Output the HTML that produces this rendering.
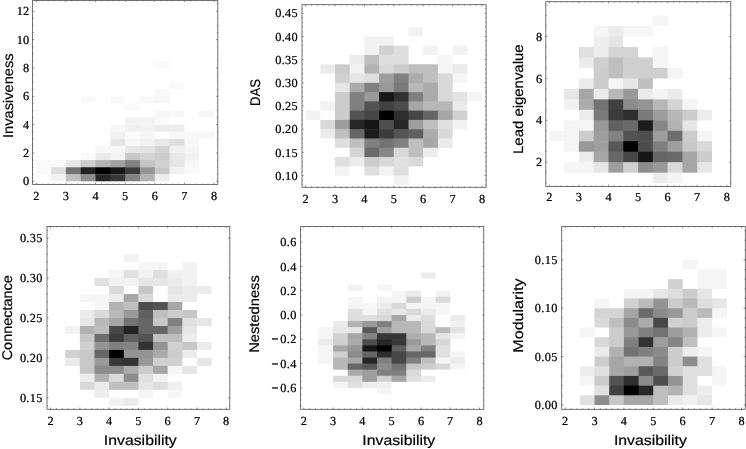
<!DOCTYPE html>
<html><head><meta charset="utf-8"><title>Figure</title>
<style>
html,body{margin:0;padding:0;background:#fff;}
svg{display:block;text-rendering:geometricPrecision;}
.t{font-family:"Liberation Serif",serif;font-size:12.3px;fill:#000;}
.l{font-family:"Liberation Sans",sans-serif;font-size:14px;fill:#000;stroke:#000;stroke-width:0.2px;}
</style></head><body>
<svg width="746" height="449" viewBox="0 0 746 449">
<rect width="746" height="449" fill="#fff"/>
<defs><filter id="b" x="-5%" y="-5%" width="110%" height="110%"><feGaussianBlur stdDeviation="0.45"/></filter><filter id="tb" x="-2%" y="-2%" width="104%" height="104%"><feGaussianBlur stdDeviation="0.22 0.05"/><feComponentTransfer><feFuncA type="gamma" amplitude="1" exponent="0.6" offset="0"/></feComponentTransfer></filter></defs>
<g>
<g filter="url(#b)">
<rect x="51.11" y="174.22" width="15.41" height="7.08" fill="#f2f2f2"/><rect x="65.92" y="174.22" width="15.41" height="7.08" fill="#bfbfbf"/><rect x="80.73" y="174.22" width="15.41" height="7.08" fill="#8c8c8c"/><rect x="95.54" y="174.22" width="15.41" height="7.08" fill="#262626"/><rect x="110.35" y="174.22" width="15.41" height="7.08" fill="#383838"/><rect x="125.16" y="174.22" width="15.41" height="7.08" fill="#808080"/><rect x="139.97" y="174.22" width="15.41" height="7.08" fill="#b2b2b2"/><rect x="154.78" y="174.22" width="14.81" height="7.08" fill="#ededed"/>
<rect x="36.30" y="167.13" width="15.41" height="7.08" fill="#fafafa"/><rect x="51.11" y="167.13" width="15.41" height="7.08" fill="#dedede"/><rect x="65.92" y="167.13" width="15.41" height="7.08" fill="#737373"/><rect x="80.73" y="167.13" width="15.41" height="7.08" fill="#212121"/><rect x="95.54" y="167.13" width="15.41" height="7.08" fill="#000000"/><rect x="110.35" y="167.13" width="15.41" height="7.08" fill="#191919"/><rect x="125.16" y="167.13" width="15.41" height="7.08" fill="#3b3b3b"/><rect x="139.97" y="167.13" width="15.41" height="7.08" fill="#949494"/><rect x="154.78" y="167.13" width="15.41" height="7.08" fill="#c7c7c7"/><rect x="169.59" y="167.13" width="15.41" height="7.08" fill="#f0f0f0"/><rect x="184.40" y="167.13" width="14.81" height="7.08" fill="#fafafa"/>
<rect x="36.30" y="160.05" width="15.41" height="7.08" fill="#fafafa"/><rect x="51.11" y="160.05" width="15.41" height="7.08" fill="#fafafa"/><rect x="65.92" y="160.05" width="15.41" height="7.08" fill="#e8e8e8"/><rect x="80.73" y="160.05" width="15.41" height="7.08" fill="#cccccc"/><rect x="95.54" y="160.05" width="15.41" height="7.08" fill="#b2b2b2"/><rect x="110.35" y="160.05" width="15.41" height="7.08" fill="#a1a1a1"/><rect x="125.16" y="160.05" width="15.41" height="7.08" fill="#808080"/><rect x="139.97" y="160.05" width="15.41" height="7.08" fill="#c4c4c4"/><rect x="154.78" y="160.05" width="15.41" height="7.08" fill="#d1d1d1"/><rect x="169.59" y="160.05" width="15.41" height="7.08" fill="#e6e6e6"/><rect x="184.40" y="160.05" width="14.81" height="7.08" fill="#f7f7f7"/>
<rect x="80.73" y="152.96" width="15.41" height="7.08" fill="#fafafa"/><rect x="95.54" y="152.96" width="15.41" height="7.08" fill="#ebebeb"/><rect x="110.35" y="152.96" width="15.41" height="7.08" fill="#f2f2f2"/><rect x="125.16" y="152.96" width="15.41" height="7.08" fill="#c7c7c7"/><rect x="139.97" y="152.96" width="15.41" height="7.08" fill="#d4d4d4"/><rect x="154.78" y="152.96" width="15.41" height="7.08" fill="#cccccc"/><rect x="169.59" y="152.96" width="15.41" height="7.08" fill="#e8e8e8"/><rect x="184.40" y="152.96" width="14.81" height="7.08" fill="#f2f2f2"/>
<rect x="95.54" y="145.88" width="15.41" height="7.08" fill="#f7f7f7"/><rect x="110.35" y="145.88" width="15.41" height="7.08" fill="#f7f7f7"/><rect x="125.16" y="145.88" width="15.41" height="7.08" fill="#e6e6e6"/><rect x="139.97" y="145.88" width="15.41" height="7.08" fill="#e3e3e3"/><rect x="154.78" y="145.88" width="15.41" height="7.08" fill="#d4d4d4"/><rect x="169.59" y="145.88" width="15.41" height="7.08" fill="#f0f0f0"/><rect x="184.40" y="145.88" width="14.81" height="7.08" fill="#f5f5f5"/>
<rect x="110.35" y="138.79" width="15.41" height="7.08" fill="#e6e6e6"/><rect x="125.16" y="138.79" width="15.41" height="7.08" fill="#f7f7f7"/><rect x="139.97" y="138.79" width="15.41" height="7.08" fill="#f2f2f2"/><rect x="154.78" y="138.79" width="15.41" height="7.08" fill="#e8e8e8"/><rect x="169.59" y="138.79" width="15.41" height="7.08" fill="#dedede"/><rect x="184.40" y="138.79" width="14.81" height="7.08" fill="#f7f7f7"/>
<rect x="110.35" y="131.71" width="15.41" height="7.08" fill="#f0f0f0"/><rect x="125.16" y="131.71" width="15.41" height="7.08" fill="#fafafa"/><rect x="139.97" y="131.71" width="14.81" height="7.08" fill="#f5f5f5"/><rect x="169.59" y="131.71" width="15.41" height="7.08" fill="#f7f7f7"/><rect x="184.40" y="131.71" width="15.41" height="7.08" fill="#f7f7f7"/><rect x="199.21" y="131.71" width="14.81" height="7.08" fill="#f7f7f7"/>
<rect x="110.35" y="124.62" width="15.41" height="7.08" fill="#f7f7f7"/><rect x="125.16" y="124.62" width="15.41" height="7.08" fill="#f0f0f0"/><rect x="139.97" y="124.62" width="15.41" height="7.08" fill="#f2f2f2"/><rect x="154.78" y="124.62" width="15.41" height="7.08" fill="#ebebeb"/><rect x="169.59" y="124.62" width="14.81" height="7.08" fill="#ededed"/>
<rect x="125.16" y="117.54" width="15.41" height="7.08" fill="#f2f2f2"/><rect x="139.97" y="117.54" width="15.41" height="7.08" fill="#f2f2f2"/><rect x="154.78" y="117.54" width="14.81" height="7.08" fill="#fafafa"/>
<rect x="154.78" y="110.45" width="15.41" height="7.08" fill="#f7f7f7"/><rect x="169.59" y="110.45" width="14.81" height="7.08" fill="#f7f7f7"/><rect x="199.21" y="110.45" width="14.81" height="7.08" fill="#f7f7f7"/>
<rect x="125.16" y="103.37" width="14.81" height="7.08" fill="#fafafa"/>
<rect x="80.73" y="96.28" width="14.81" height="7.08" fill="#fafafa"/><rect x="110.35" y="96.28" width="14.81" height="7.08" fill="#fafafa"/><rect x="139.97" y="96.28" width="15.41" height="7.08" fill="#fafafa"/><rect x="154.78" y="96.28" width="14.81" height="7.08" fill="#f7f7f7"/>
<rect x="154.78" y="89.20" width="14.81" height="7.08" fill="#f9f9f9"/>
<rect x="169.59" y="82.11" width="14.81" height="7.08" fill="#fafafa"/>
<rect x="154.78" y="60.86" width="14.81" height="7.08" fill="#fafafa"/>
</g>
<rect x="32.6" y="0.4" width="185.2" height="184.0" fill="none" stroke="#505050" stroke-width="0.8"/>
<path d="M36.3 184.4v-1.6M36.3 0.4v1.6M42.2 184.4v-0.9M42.2 0.4v0.9M48.1 184.4v-0.9M48.1 0.4v0.9M54.1 184.4v-0.9M54.1 0.4v0.9M60.0 184.4v-0.9M60.0 0.4v0.9M65.9 184.4v-1.6M65.9 0.4v1.6M71.8 184.4v-0.9M71.8 0.4v0.9M77.8 184.4v-0.9M77.8 0.4v0.9M83.7 184.4v-0.9M83.7 0.4v0.9M89.6 184.4v-0.9M89.6 0.4v0.9M95.5 184.4v-1.6M95.5 0.4v1.6M101.5 184.4v-0.9M101.5 0.4v0.9M107.4 184.4v-0.9M107.4 0.4v0.9M113.3 184.4v-0.9M113.3 0.4v0.9M119.2 184.4v-0.9M119.2 0.4v0.9M125.2 184.4v-1.6M125.2 0.4v1.6M131.1 184.4v-0.9M131.1 0.4v0.9M137.0 184.4v-0.9M137.0 0.4v0.9M142.9 184.4v-0.9M142.9 0.4v0.9M148.9 184.4v-0.9M148.9 0.4v0.9M154.8 184.4v-1.6M154.8 0.4v1.6M160.7 184.4v-0.9M160.7 0.4v0.9M166.6 184.4v-0.9M166.6 0.4v0.9M172.6 184.4v-0.9M172.6 0.4v0.9M178.5 184.4v-0.9M178.5 0.4v0.9M184.4 184.4v-1.6M184.4 0.4v1.6M190.3 184.4v-0.9M190.3 0.4v0.9M196.2 184.4v-0.9M196.2 0.4v0.9M202.2 184.4v-0.9M202.2 0.4v0.9M208.1 184.4v-0.9M208.1 0.4v0.9M214.0 184.4v-1.6M214.0 0.4v1.6M32.6 181.3h1.6M217.8 181.3h-1.6M32.6 174.2h0.9M217.8 174.2h-0.9M32.6 167.1h0.9M217.8 167.1h-0.9M32.6 160.0h0.9M217.8 160.0h-0.9M32.6 153.0h1.6M217.8 153.0h-1.6M32.6 145.9h0.9M217.8 145.9h-0.9M32.6 138.8h0.9M217.8 138.8h-0.9M32.6 131.7h0.9M217.8 131.7h-0.9M32.6 124.6h1.6M217.8 124.6h-1.6M32.6 117.5h0.9M217.8 117.5h-0.9M32.6 110.5h0.9M217.8 110.5h-0.9M32.6 103.4h0.9M217.8 103.4h-0.9M32.6 96.3h1.6M217.8 96.3h-1.6M32.6 89.2h0.9M217.8 89.2h-0.9M32.6 82.1h0.9M217.8 82.1h-0.9M32.6 75.0h0.9M217.8 75.0h-0.9M32.6 67.9h1.6M217.8 67.9h-1.6M32.6 60.9h0.9M217.8 60.9h-0.9M32.6 53.8h0.9M217.8 53.8h-0.9M32.6 46.7h0.9M217.8 46.7h-0.9M32.6 39.6h1.6M217.8 39.6h-1.6M32.6 32.5h0.9M217.8 32.5h-0.9M32.6 25.4h0.9M217.8 25.4h-0.9M32.6 18.3h0.9M217.8 18.3h-0.9M32.6 11.3h1.6M217.8 11.3h-1.6M32.6 4.2h0.9M217.8 4.2h-0.9" stroke="#555" stroke-width="0.7" fill="none"/>
<g filter="url(#tb)">
<text class="t" x="36.3" y="199.8" text-anchor="middle">2</text><text class="t" x="65.9" y="199.8" text-anchor="middle">3</text><text class="t" x="95.5" y="199.8" text-anchor="middle">4</text><text class="t" x="125.2" y="199.8" text-anchor="middle">5</text><text class="t" x="154.8" y="199.8" text-anchor="middle">6</text><text class="t" x="184.4" y="199.8" text-anchor="middle">7</text><text class="t" x="214.0" y="199.8" text-anchor="middle">8</text>
<text class="t" x="29.1" y="185.4" text-anchor="end">0</text><text class="t" x="29.1" y="157.1" text-anchor="end">2</text><text class="t" x="29.1" y="128.7" text-anchor="end">4</text><text class="t" x="29.1" y="100.4" text-anchor="end">6</text><text class="t" x="29.1" y="72.0" text-anchor="end">8</text><text class="t" x="29.1" y="43.7" text-anchor="end">10</text><text class="t" x="29.1" y="15.4" text-anchor="end">12</text>
</g>
<text class="l" text-anchor="middle" textLength="84.5" lengthAdjust="spacingAndGlyphs" transform="translate(13.2 95.7) rotate(-90)">Invasiveness</text>
</g>
<g>
<g filter="url(#b)">
<rect x="408.50" y="27.12" width="14.70" height="9.28" fill="#f2f2f2"/>
<rect x="364.40" y="36.40" width="15.30" height="9.88" fill="#f2f2f2"/><rect x="379.10" y="36.40" width="14.70" height="9.88" fill="#f2f2f2"/>
<rect x="364.40" y="45.68" width="15.30" height="9.88" fill="#f2f2f2"/><rect x="379.10" y="45.68" width="15.30" height="9.88" fill="#d1d1d1"/><rect x="393.80" y="45.68" width="14.70" height="9.88" fill="#dedede"/><rect x="423.20" y="45.68" width="14.70" height="9.28" fill="#f2f2f2"/><rect x="452.60" y="45.68" width="14.70" height="9.28" fill="#f2f2f2"/>
<rect x="349.70" y="54.96" width="15.30" height="9.88" fill="#ebebeb"/><rect x="364.40" y="54.96" width="15.30" height="9.88" fill="#bfbfbf"/><rect x="379.10" y="54.96" width="15.30" height="9.88" fill="#dedede"/><rect x="393.80" y="54.96" width="14.70" height="9.88" fill="#dedede"/><rect x="437.90" y="54.96" width="14.70" height="9.88" fill="#f5f5f5"/>
<rect x="320.30" y="64.24" width="15.30" height="9.28" fill="#ebebeb"/><rect x="335.00" y="64.24" width="15.30" height="9.88" fill="#cccccc"/><rect x="349.70" y="64.24" width="15.30" height="9.88" fill="#f2f2f2"/><rect x="364.40" y="64.24" width="15.30" height="9.88" fill="#b2b2b2"/><rect x="379.10" y="64.24" width="15.30" height="9.88" fill="#d9d9d9"/><rect x="393.80" y="64.24" width="15.30" height="9.88" fill="#cccccc"/><rect x="408.50" y="64.24" width="15.30" height="9.88" fill="#bfbfbf"/><rect x="423.20" y="64.24" width="15.30" height="9.88" fill="#bfbfbf"/><rect x="437.90" y="64.24" width="15.30" height="9.88" fill="#f5f5f5"/><rect x="452.60" y="64.24" width="14.70" height="9.88" fill="#ebebeb"/>
<rect x="335.00" y="73.52" width="15.30" height="9.88" fill="#d1d1d1"/><rect x="349.70" y="73.52" width="15.30" height="9.88" fill="#e6e6e6"/><rect x="364.40" y="73.52" width="15.30" height="9.88" fill="#dedede"/><rect x="379.10" y="73.52" width="15.30" height="9.88" fill="#9e9e9e"/><rect x="393.80" y="73.52" width="15.30" height="9.88" fill="#808080"/><rect x="408.50" y="73.52" width="15.30" height="9.88" fill="#ababab"/><rect x="423.20" y="73.52" width="15.30" height="9.88" fill="#bfbfbf"/><rect x="437.90" y="73.52" width="15.30" height="9.88" fill="#d9d9d9"/><rect x="452.60" y="73.52" width="14.70" height="9.28" fill="#f5f5f5"/>
<rect x="335.00" y="82.80" width="15.30" height="9.88" fill="#e6e6e6"/><rect x="349.70" y="82.80" width="15.30" height="9.88" fill="#ababab"/><rect x="364.40" y="82.80" width="15.30" height="9.88" fill="#808080"/><rect x="379.10" y="82.80" width="15.30" height="9.88" fill="#999999"/><rect x="393.80" y="82.80" width="15.30" height="9.88" fill="#7a7a7a"/><rect x="408.50" y="82.80" width="15.30" height="9.88" fill="#b8b8b8"/><rect x="423.20" y="82.80" width="15.30" height="9.88" fill="#ababab"/><rect x="437.90" y="82.80" width="14.70" height="9.88" fill="#d9d9d9"/>
<rect x="335.00" y="92.08" width="15.30" height="9.88" fill="#cccccc"/><rect x="349.70" y="92.08" width="15.30" height="9.88" fill="#808080"/><rect x="364.40" y="92.08" width="15.30" height="9.88" fill="#999999"/><rect x="379.10" y="92.08" width="15.30" height="9.88" fill="#141414"/><rect x="393.80" y="92.08" width="15.30" height="9.88" fill="#333333"/><rect x="408.50" y="92.08" width="15.30" height="9.88" fill="#808080"/><rect x="423.20" y="92.08" width="15.30" height="9.88" fill="#ababab"/><rect x="437.90" y="92.08" width="15.30" height="9.88" fill="#d9d9d9"/><rect x="452.60" y="92.08" width="15.30" height="9.88" fill="#e3e3e3"/><rect x="467.30" y="92.08" width="14.70" height="9.28" fill="#f5f5f5"/>
<rect x="320.30" y="101.36" width="15.30" height="9.28" fill="#f2f2f2"/><rect x="335.00" y="101.36" width="15.30" height="9.88" fill="#cccccc"/><rect x="349.70" y="101.36" width="15.30" height="9.88" fill="#808080"/><rect x="364.40" y="101.36" width="15.30" height="9.88" fill="#525252"/><rect x="379.10" y="101.36" width="15.30" height="9.88" fill="#404040"/><rect x="393.80" y="101.36" width="15.30" height="9.88" fill="#4d4d4d"/><rect x="408.50" y="101.36" width="15.30" height="9.88" fill="#a6a6a6"/><rect x="423.20" y="101.36" width="15.30" height="9.88" fill="#b8b8b8"/><rect x="437.90" y="101.36" width="15.30" height="9.88" fill="#b8b8b8"/><rect x="452.60" y="101.36" width="14.70" height="9.88" fill="#ebebeb"/>
<rect x="305.60" y="110.64" width="14.70" height="9.28" fill="#f2f2f2"/><rect x="335.00" y="110.64" width="15.30" height="9.88" fill="#cccccc"/><rect x="349.70" y="110.64" width="15.30" height="9.88" fill="#525252"/><rect x="364.40" y="110.64" width="15.30" height="9.88" fill="#474747"/><rect x="379.10" y="110.64" width="15.30" height="9.88" fill="#000000"/><rect x="393.80" y="110.64" width="15.30" height="9.88" fill="#2e2e2e"/><rect x="408.50" y="110.64" width="15.30" height="9.88" fill="#474747"/><rect x="423.20" y="110.64" width="15.30" height="9.88" fill="#666666"/><rect x="437.90" y="110.64" width="15.30" height="9.88" fill="#a6a6a6"/><rect x="452.60" y="110.64" width="14.70" height="9.88" fill="#d1d1d1"/>
<rect x="320.30" y="119.92" width="15.30" height="9.88" fill="#d9d9d9"/><rect x="335.00" y="119.92" width="15.30" height="9.88" fill="#9e9e9e"/><rect x="349.70" y="119.92" width="15.30" height="9.88" fill="#262626"/><rect x="364.40" y="119.92" width="15.30" height="9.88" fill="#141414"/><rect x="379.10" y="119.92" width="15.30" height="9.88" fill="#4d4d4d"/><rect x="393.80" y="119.92" width="15.30" height="9.88" fill="#262626"/><rect x="408.50" y="119.92" width="15.30" height="9.88" fill="#9e9e9e"/><rect x="423.20" y="119.92" width="15.30" height="9.88" fill="#bfbfbf"/><rect x="437.90" y="119.92" width="15.30" height="9.88" fill="#e0e0e0"/><rect x="452.60" y="119.92" width="14.70" height="9.28" fill="#f2f2f2"/>
<rect x="320.30" y="129.20" width="15.30" height="9.28" fill="#ebebeb"/><rect x="335.00" y="129.20" width="15.30" height="9.88" fill="#bfbfbf"/><rect x="349.70" y="129.20" width="15.30" height="9.88" fill="#666666"/><rect x="364.40" y="129.20" width="15.30" height="9.88" fill="#1f1f1f"/><rect x="379.10" y="129.20" width="15.30" height="9.88" fill="#3b3b3b"/><rect x="393.80" y="129.20" width="15.30" height="9.88" fill="#545454"/><rect x="408.50" y="129.20" width="15.30" height="9.88" fill="#616161"/><rect x="423.20" y="129.20" width="15.30" height="9.88" fill="#ababab"/><rect x="437.90" y="129.20" width="14.70" height="9.88" fill="#d9d9d9"/>
<rect x="335.00" y="138.48" width="15.30" height="9.28" fill="#dedede"/><rect x="349.70" y="138.48" width="15.30" height="9.88" fill="#bfbfbf"/><rect x="364.40" y="138.48" width="15.30" height="9.88" fill="#808080"/><rect x="379.10" y="138.48" width="15.30" height="9.88" fill="#737373"/><rect x="393.80" y="138.48" width="15.30" height="9.88" fill="#808080"/><rect x="408.50" y="138.48" width="15.30" height="9.88" fill="#bfbfbf"/><rect x="423.20" y="138.48" width="15.30" height="9.88" fill="#a6a6a6"/><rect x="437.90" y="138.48" width="14.70" height="9.28" fill="#ebebeb"/>
<rect x="349.70" y="147.76" width="15.30" height="9.88" fill="#d4d4d4"/><rect x="364.40" y="147.76" width="15.30" height="9.88" fill="#6b6b6b"/><rect x="379.10" y="147.76" width="15.30" height="9.88" fill="#878787"/><rect x="393.80" y="147.76" width="15.30" height="9.88" fill="#d9d9d9"/><rect x="408.50" y="147.76" width="15.30" height="9.88" fill="#bfbfbf"/><rect x="423.20" y="147.76" width="14.70" height="9.28" fill="#ededed"/>
<rect x="335.00" y="157.04" width="15.30" height="9.88" fill="#e0e0e0"/><rect x="349.70" y="157.04" width="15.30" height="9.28" fill="#ededed"/><rect x="364.40" y="157.04" width="15.30" height="9.88" fill="#cccccc"/><rect x="379.10" y="157.04" width="15.30" height="9.88" fill="#d9d9d9"/><rect x="393.80" y="157.04" width="15.30" height="9.88" fill="#e0e0e0"/><rect x="408.50" y="157.04" width="14.70" height="9.28" fill="#d9d9d9"/>
<rect x="335.00" y="166.32" width="14.70" height="9.28" fill="#f2f2f2"/><rect x="364.40" y="166.32" width="15.30" height="9.28" fill="#dedede"/><rect x="379.10" y="166.32" width="15.30" height="9.28" fill="#f2f2f2"/><rect x="393.80" y="166.32" width="14.70" height="9.88" fill="#dedede"/>
<rect x="393.80" y="175.60" width="14.70" height="9.28" fill="#f2f2f2"/>
</g>
<rect x="302.0" y="4.7" width="184.1" height="182.6" fill="none" stroke="#505050" stroke-width="0.8"/>
<path d="M305.6 187.2v-1.6M305.6 4.7v1.6M311.5 187.2v-0.9M311.5 4.7v0.9M317.4 187.2v-0.9M317.4 4.7v0.9M323.2 187.2v-0.9M323.2 4.7v0.9M329.1 187.2v-0.9M329.1 4.7v0.9M335.0 187.2v-1.6M335.0 4.7v1.6M340.9 187.2v-0.9M340.9 4.7v0.9M346.8 187.2v-0.9M346.8 4.7v0.9M352.6 187.2v-0.9M352.6 4.7v0.9M358.5 187.2v-0.9M358.5 4.7v0.9M364.4 187.2v-1.6M364.4 4.7v1.6M370.3 187.2v-0.9M370.3 4.7v0.9M376.2 187.2v-0.9M376.2 4.7v0.9M382.0 187.2v-0.9M382.0 4.7v0.9M387.9 187.2v-0.9M387.9 4.7v0.9M393.8 187.2v-1.6M393.8 4.7v1.6M399.7 187.2v-0.9M399.7 4.7v0.9M405.6 187.2v-0.9M405.6 4.7v0.9M411.4 187.2v-0.9M411.4 4.7v0.9M417.3 187.2v-0.9M417.3 4.7v0.9M423.2 187.2v-1.6M423.2 4.7v1.6M429.1 187.2v-0.9M429.1 4.7v0.9M435.0 187.2v-0.9M435.0 4.7v0.9M440.8 187.2v-0.9M440.8 4.7v0.9M446.7 187.2v-0.9M446.7 4.7v0.9M452.6 187.2v-1.6M452.6 4.7v1.6M458.5 187.2v-0.9M458.5 4.7v0.9M464.4 187.2v-0.9M464.4 4.7v0.9M470.2 187.2v-0.9M470.2 4.7v0.9M476.1 187.2v-0.9M476.1 4.7v0.9M482.0 187.2v-1.6M482.0 4.7v1.6M302.0 184.9h0.9M486.1 184.9h-0.9M302.0 180.2h0.9M486.1 180.2h-0.9M302.0 175.6h1.6M486.1 175.6h-1.6M302.0 171.0h0.9M486.1 171.0h-0.9M302.0 166.3h0.9M486.1 166.3h-0.9M302.0 161.7h0.9M486.1 161.7h-0.9M302.0 157.0h0.9M486.1 157.0h-0.9M302.0 152.4h1.6M486.1 152.4h-1.6M302.0 147.8h0.9M486.1 147.8h-0.9M302.0 143.1h0.9M486.1 143.1h-0.9M302.0 138.5h0.9M486.1 138.5h-0.9M302.0 133.8h0.9M486.1 133.8h-0.9M302.0 129.2h1.6M486.1 129.2h-1.6M302.0 124.6h0.9M486.1 124.6h-0.9M302.0 119.9h0.9M486.1 119.9h-0.9M302.0 115.3h0.9M486.1 115.3h-0.9M302.0 110.6h0.9M486.1 110.6h-0.9M302.0 106.0h1.6M486.1 106.0h-1.6M302.0 101.4h0.9M486.1 101.4h-0.9M302.0 96.7h0.9M486.1 96.7h-0.9M302.0 92.1h0.9M486.1 92.1h-0.9M302.0 87.4h0.9M486.1 87.4h-0.9M302.0 82.8h1.6M486.1 82.8h-1.6M302.0 78.2h0.9M486.1 78.2h-0.9M302.0 73.5h0.9M486.1 73.5h-0.9M302.0 68.9h0.9M486.1 68.9h-0.9M302.0 64.2h0.9M486.1 64.2h-0.9M302.0 59.6h1.6M486.1 59.6h-1.6M302.0 55.0h0.9M486.1 55.0h-0.9M302.0 50.3h0.9M486.1 50.3h-0.9M302.0 45.7h0.9M486.1 45.7h-0.9M302.0 41.0h0.9M486.1 41.0h-0.9M302.0 36.4h1.6M486.1 36.4h-1.6M302.0 31.8h0.9M486.1 31.8h-0.9M302.0 27.1h0.9M486.1 27.1h-0.9M302.0 22.5h0.9M486.1 22.5h-0.9M302.0 17.8h0.9M486.1 17.8h-0.9M302.0 13.2h1.6M486.1 13.2h-1.6M302.0 8.6h0.9M486.1 8.6h-0.9" stroke="#555" stroke-width="0.7" fill="none"/>
<g filter="url(#tb)">
<text class="t" x="305.6" y="203.2" text-anchor="middle">2</text><text class="t" x="335.0" y="203.2" text-anchor="middle">3</text><text class="t" x="364.4" y="203.2" text-anchor="middle">4</text><text class="t" x="393.8" y="203.2" text-anchor="middle">5</text><text class="t" x="423.2" y="203.2" text-anchor="middle">6</text><text class="t" x="452.6" y="203.2" text-anchor="middle">7</text><text class="t" x="482.0" y="203.2" text-anchor="middle">8</text>
<text class="t" x="298.1" y="179.7" text-anchor="end" letter-spacing="0.35">0.10</text><text class="t" x="298.1" y="156.5" text-anchor="end" letter-spacing="0.35">0.15</text><text class="t" x="298.1" y="133.3" text-anchor="end" letter-spacing="0.35">0.20</text><text class="t" x="298.1" y="110.1" text-anchor="end" letter-spacing="0.35">0.25</text><text class="t" x="298.1" y="86.9" text-anchor="end" letter-spacing="0.35">0.30</text><text class="t" x="298.1" y="63.7" text-anchor="end" letter-spacing="0.35">0.35</text><text class="t" x="298.1" y="40.5" text-anchor="end" letter-spacing="0.35">0.40</text><text class="t" x="298.1" y="17.3" text-anchor="end" letter-spacing="0.35">0.45</text>
</g>
<text class="l" text-anchor="middle" textLength="27.0" lengthAdjust="spacingAndGlyphs" transform="translate(260.0 92.5) rotate(-90)">DAS</text>
</g>
<g>
<g filter="url(#b)">
<rect x="652.87" y="15.55" width="14.79" height="10.47" fill="#f5f5f5"/>
<rect x="593.68" y="26.03" width="15.39" height="11.07" fill="#f5f5f5"/><rect x="608.48" y="26.03" width="15.39" height="11.07" fill="#ebebeb"/><rect x="623.27" y="26.03" width="15.39" height="10.47" fill="#f5f5f5"/><rect x="638.07" y="26.03" width="14.79" height="10.47" fill="#f5f5f5"/>
<rect x="593.68" y="36.50" width="15.39" height="11.07" fill="#ededed"/><rect x="608.48" y="36.50" width="14.79" height="11.07" fill="#e6e6e6"/>
<rect x="578.89" y="46.97" width="15.39" height="11.07" fill="#e0e0e0"/><rect x="593.68" y="46.97" width="15.39" height="11.07" fill="#ededed"/><rect x="608.48" y="46.97" width="15.39" height="11.07" fill="#d4d4d4"/><rect x="623.27" y="46.97" width="14.79" height="11.07" fill="#d4d4d4"/><rect x="652.87" y="46.97" width="14.79" height="11.07" fill="#f5f5f5"/>
<rect x="578.89" y="57.45" width="15.39" height="10.47" fill="#ebebeb"/><rect x="593.68" y="57.45" width="15.39" height="11.07" fill="#cfcfcf"/><rect x="608.48" y="57.45" width="15.39" height="11.07" fill="#bfbfbf"/><rect x="623.27" y="57.45" width="15.39" height="11.07" fill="#cfcfcf"/><rect x="638.07" y="57.45" width="15.39" height="11.07" fill="#cfcfcf"/><rect x="652.87" y="57.45" width="14.79" height="11.07" fill="#f5f5f5"/>
<rect x="593.68" y="67.92" width="15.39" height="11.07" fill="#cccccc"/><rect x="608.48" y="67.92" width="15.39" height="11.07" fill="#bfbfbf"/><rect x="623.27" y="67.92" width="15.39" height="11.07" fill="#cfcfcf"/><rect x="638.07" y="67.92" width="15.39" height="11.07" fill="#cfcfcf"/><rect x="652.87" y="67.92" width="15.39" height="10.47" fill="#cfcfcf"/><rect x="667.66" y="67.92" width="14.79" height="10.47" fill="#f5f5f5"/>
<rect x="578.89" y="78.40" width="15.39" height="11.07" fill="#ebebeb"/><rect x="593.68" y="78.40" width="15.39" height="11.07" fill="#cccccc"/><rect x="608.48" y="78.40" width="15.39" height="11.07" fill="#f5f5f5"/><rect x="623.27" y="78.40" width="15.39" height="11.07" fill="#e6e6e6"/><rect x="638.07" y="78.40" width="14.79" height="11.07" fill="#bfbfbf"/>
<rect x="564.09" y="88.87" width="15.39" height="11.07" fill="#e6e6e6"/><rect x="578.89" y="88.87" width="15.39" height="11.07" fill="#a6a6a6"/><rect x="593.68" y="88.87" width="15.39" height="11.07" fill="#ebebeb"/><rect x="608.48" y="88.87" width="15.39" height="11.07" fill="#b8b8b8"/><rect x="623.27" y="88.87" width="15.39" height="11.07" fill="#999999"/><rect x="638.07" y="88.87" width="15.39" height="11.07" fill="#ebebeb"/><rect x="652.87" y="88.87" width="15.39" height="11.07" fill="#f5f5f5"/><rect x="667.66" y="88.87" width="14.79" height="11.07" fill="#ebebeb"/>
<rect x="564.09" y="99.35" width="15.39" height="10.47" fill="#f2f2f2"/><rect x="578.89" y="99.35" width="15.39" height="11.07" fill="#ababab"/><rect x="593.68" y="99.35" width="15.39" height="11.07" fill="#737373"/><rect x="608.48" y="99.35" width="15.39" height="11.07" fill="#404040"/><rect x="623.27" y="99.35" width="15.39" height="11.07" fill="#8c8c8c"/><rect x="638.07" y="99.35" width="15.39" height="11.07" fill="#949494"/><rect x="652.87" y="99.35" width="15.39" height="11.07" fill="#b8b8b8"/><rect x="667.66" y="99.35" width="15.39" height="11.07" fill="#d4d4d4"/><rect x="682.45" y="99.35" width="14.79" height="11.07" fill="#f5f5f5"/>
<rect x="578.89" y="109.82" width="15.39" height="11.07" fill="#ededed"/><rect x="593.68" y="109.82" width="15.39" height="11.07" fill="#7a7a7a"/><rect x="608.48" y="109.82" width="15.39" height="11.07" fill="#3b3b3b"/><rect x="623.27" y="109.82" width="15.39" height="11.07" fill="#2e2e2e"/><rect x="638.07" y="109.82" width="15.39" height="11.07" fill="#7a7a7a"/><rect x="652.87" y="109.82" width="15.39" height="11.07" fill="#9e9e9e"/><rect x="667.66" y="109.82" width="15.39" height="11.07" fill="#b8b8b8"/><rect x="682.45" y="109.82" width="15.39" height="11.07" fill="#cccccc"/><rect x="697.25" y="109.82" width="14.79" height="10.47" fill="#ededed"/>
<rect x="564.09" y="120.30" width="15.39" height="11.07" fill="#f5f5f5"/><rect x="578.89" y="120.30" width="15.39" height="11.07" fill="#f5f5f5"/><rect x="593.68" y="120.30" width="15.39" height="11.07" fill="#999999"/><rect x="608.48" y="120.30" width="15.39" height="11.07" fill="#616161"/><rect x="623.27" y="120.30" width="15.39" height="11.07" fill="#6b6b6b"/><rect x="638.07" y="120.30" width="15.39" height="11.07" fill="#1f1f1f"/><rect x="652.87" y="120.30" width="15.39" height="11.07" fill="#878787"/><rect x="667.66" y="120.30" width="15.39" height="11.07" fill="#b2b2b2"/><rect x="682.45" y="120.30" width="14.79" height="11.07" fill="#e6e6e6"/>
<rect x="549.30" y="130.77" width="15.39" height="10.47" fill="#f5f5f5"/><rect x="564.09" y="130.77" width="15.39" height="11.07" fill="#f5f5f5"/><rect x="578.89" y="130.77" width="15.39" height="11.07" fill="#cccccc"/><rect x="593.68" y="130.77" width="15.39" height="11.07" fill="#9e9e9e"/><rect x="608.48" y="130.77" width="15.39" height="11.07" fill="#808080"/><rect x="623.27" y="130.77" width="15.39" height="11.07" fill="#525252"/><rect x="638.07" y="130.77" width="15.39" height="11.07" fill="#4d4d4d"/><rect x="652.87" y="130.77" width="15.39" height="11.07" fill="#9e9e9e"/><rect x="667.66" y="130.77" width="15.39" height="11.07" fill="#6e6e6e"/><rect x="682.45" y="130.77" width="15.39" height="11.07" fill="#cccccc"/><rect x="697.25" y="130.77" width="14.79" height="11.07" fill="#f5f5f5"/>
<rect x="564.09" y="141.25" width="15.39" height="10.47" fill="#f5f5f5"/><rect x="578.89" y="141.25" width="15.39" height="11.07" fill="#999999"/><rect x="593.68" y="141.25" width="15.39" height="11.07" fill="#9e9e9e"/><rect x="608.48" y="141.25" width="15.39" height="11.07" fill="#595959"/><rect x="623.27" y="141.25" width="15.39" height="11.07" fill="#000000"/><rect x="638.07" y="141.25" width="15.39" height="11.07" fill="#4d4d4d"/><rect x="652.87" y="141.25" width="15.39" height="11.07" fill="#808080"/><rect x="667.66" y="141.25" width="15.39" height="11.07" fill="#9e9e9e"/><rect x="682.45" y="141.25" width="15.39" height="11.07" fill="#c7c7c7"/><rect x="697.25" y="141.25" width="14.79" height="11.07" fill="#d9d9d9"/>
<rect x="578.89" y="151.72" width="15.39" height="11.07" fill="#ededed"/><rect x="593.68" y="151.72" width="15.39" height="11.07" fill="#a6a6a6"/><rect x="608.48" y="151.72" width="15.39" height="11.07" fill="#666666"/><rect x="623.27" y="151.72" width="15.39" height="11.07" fill="#474747"/><rect x="638.07" y="151.72" width="15.39" height="11.07" fill="#191919"/><rect x="652.87" y="151.72" width="15.39" height="11.07" fill="#666666"/><rect x="667.66" y="151.72" width="15.39" height="11.07" fill="#6b6b6b"/><rect x="682.45" y="151.72" width="15.39" height="11.07" fill="#a6a6a6"/><rect x="697.25" y="151.72" width="14.79" height="11.07" fill="#cccccc"/>
<rect x="564.09" y="162.20" width="15.39" height="10.47" fill="#f5f5f5"/><rect x="578.89" y="162.20" width="15.39" height="10.47" fill="#f5f5f5"/><rect x="593.68" y="162.20" width="15.39" height="10.47" fill="#e6e6e6"/><rect x="608.48" y="162.20" width="15.39" height="10.47" fill="#9e9e9e"/><rect x="623.27" y="162.20" width="15.39" height="10.47" fill="#d1d1d1"/><rect x="638.07" y="162.20" width="15.39" height="10.47" fill="#8c8c8c"/><rect x="652.87" y="162.20" width="15.39" height="11.07" fill="#999999"/><rect x="667.66" y="162.20" width="15.39" height="11.07" fill="#d9d9d9"/><rect x="682.45" y="162.20" width="15.39" height="10.47" fill="#a6a6a6"/><rect x="697.25" y="162.20" width="14.79" height="10.47" fill="#e6e6e6"/>
<rect x="652.87" y="172.67" width="15.39" height="10.47" fill="#ededed"/><rect x="667.66" y="172.67" width="14.79" height="10.47" fill="#f5f5f5"/>
</g>
<rect x="545.8" y="1.7" width="185.0" height="184.7" fill="none" stroke="#505050" stroke-width="0.8"/>
<path d="M549.3 186.3v-1.6M549.3 1.7v1.6M555.2 186.3v-0.9M555.2 1.7v0.9M561.1 186.3v-0.9M561.1 1.7v0.9M567.1 186.3v-0.9M567.1 1.7v0.9M573.0 186.3v-0.9M573.0 1.7v0.9M578.9 186.3v-1.6M578.9 1.7v1.6M584.8 186.3v-0.9M584.8 1.7v0.9M590.7 186.3v-0.9M590.7 1.7v0.9M596.6 186.3v-0.9M596.6 1.7v0.9M602.6 186.3v-0.9M602.6 1.7v0.9M608.5 186.3v-1.6M608.5 1.7v1.6M614.4 186.3v-0.9M614.4 1.7v0.9M620.3 186.3v-0.9M620.3 1.7v0.9M626.2 186.3v-0.9M626.2 1.7v0.9M632.2 186.3v-0.9M632.2 1.7v0.9M638.1 186.3v-1.6M638.1 1.7v1.6M644.0 186.3v-0.9M644.0 1.7v0.9M649.9 186.3v-0.9M649.9 1.7v0.9M655.8 186.3v-0.9M655.8 1.7v0.9M661.7 186.3v-0.9M661.7 1.7v0.9M667.7 186.3v-1.6M667.7 1.7v1.6M673.6 186.3v-0.9M673.6 1.7v0.9M679.5 186.3v-0.9M679.5 1.7v0.9M685.4 186.3v-0.9M685.4 1.7v0.9M691.3 186.3v-0.9M691.3 1.7v0.9M697.2 186.3v-1.6M697.2 1.7v1.6M703.2 186.3v-0.9M703.2 1.7v0.9M709.1 186.3v-0.9M709.1 1.7v0.9M715.0 186.3v-0.9M715.0 1.7v0.9M720.9 186.3v-0.9M720.9 1.7v0.9M726.8 186.3v-1.6M726.8 1.7v1.6M545.8 183.1h0.9M730.8 183.1h-0.9M545.8 172.7h0.9M730.8 172.7h-0.9M545.8 162.2h1.6M730.8 162.2h-1.6M545.8 151.7h0.9M730.8 151.7h-0.9M545.8 141.2h0.9M730.8 141.2h-0.9M545.8 130.8h0.9M730.8 130.8h-0.9M545.8 120.3h1.6M730.8 120.3h-1.6M545.8 109.8h0.9M730.8 109.8h-0.9M545.8 99.3h0.9M730.8 99.3h-0.9M545.8 88.9h0.9M730.8 88.9h-0.9M545.8 78.4h1.6M730.8 78.4h-1.6M545.8 67.9h0.9M730.8 67.9h-0.9M545.8 57.4h0.9M730.8 57.4h-0.9M545.8 47.0h0.9M730.8 47.0h-0.9M545.8 36.5h1.6M730.8 36.5h-1.6M545.8 26.0h0.9M730.8 26.0h-0.9M545.8 15.5h0.9M730.8 15.5h-0.9M545.8 5.1h0.9M730.8 5.1h-0.9" stroke="#555" stroke-width="0.7" fill="none"/>
<g filter="url(#tb)">
<text class="t" x="549.3" y="200.7" text-anchor="middle">2</text><text class="t" x="578.9" y="200.7" text-anchor="middle">3</text><text class="t" x="608.5" y="200.7" text-anchor="middle">4</text><text class="t" x="638.1" y="200.7" text-anchor="middle">5</text><text class="t" x="667.7" y="200.7" text-anchor="middle">6</text><text class="t" x="697.2" y="200.7" text-anchor="middle">7</text><text class="t" x="726.8" y="200.7" text-anchor="middle">8</text>
<text class="t" x="542.2" y="166.3" text-anchor="end">2</text><text class="t" x="542.2" y="124.4" text-anchor="end">4</text><text class="t" x="542.2" y="82.5" text-anchor="end">6</text><text class="t" x="542.2" y="40.6" text-anchor="end">8</text>
</g>
<text class="l" text-anchor="middle" textLength="109.5" lengthAdjust="spacingAndGlyphs" transform="translate(523.0 99.2) rotate(-90)">Lead eigenvalue</text>
</g>
<g>
<g filter="url(#b)">
<rect x="123.79" y="254.16" width="14.64" height="7.98" fill="#f2f2f2"/>
<rect x="138.42" y="262.14" width="15.24" height="8.58" fill="#f5f5f5"/><rect x="153.06" y="262.14" width="14.64" height="8.58" fill="#f5f5f5"/><rect x="182.34" y="262.14" width="14.64" height="8.58" fill="#f2f2f2"/>
<rect x="109.15" y="270.12" width="15.24" height="8.58" fill="#f5f5f5"/><rect x="123.79" y="270.12" width="15.24" height="8.58" fill="#e0e0e0"/><rect x="138.42" y="270.12" width="15.24" height="8.58" fill="#f2f2f2"/><rect x="153.06" y="270.12" width="15.24" height="8.58" fill="#e0e0e0"/><rect x="167.70" y="270.12" width="15.24" height="8.58" fill="#f0f0f0"/><rect x="182.34" y="270.12" width="14.64" height="8.58" fill="#f2f2f2"/>
<rect x="94.51" y="278.10" width="15.24" height="7.98" fill="#e0e0e0"/><rect x="109.15" y="278.10" width="15.24" height="8.58" fill="#f2f2f2"/><rect x="123.79" y="278.10" width="15.24" height="7.98" fill="#f2f2f2"/><rect x="138.42" y="278.10" width="15.24" height="8.58" fill="#e6e6e6"/><rect x="153.06" y="278.10" width="15.24" height="7.98" fill="#e6e6e6"/><rect x="167.70" y="278.10" width="15.24" height="8.58" fill="#ebebeb"/><rect x="182.34" y="278.10" width="14.64" height="8.58" fill="#f2f2f2"/>
<rect x="109.15" y="286.08" width="14.64" height="8.58" fill="#d9d9d9"/><rect x="138.42" y="286.08" width="14.64" height="8.58" fill="#c7c7c7"/><rect x="167.70" y="286.08" width="15.24" height="8.58" fill="#e6e6e6"/><rect x="182.34" y="286.08" width="15.24" height="8.58" fill="#ebebeb"/><rect x="196.97" y="286.08" width="14.64" height="7.98" fill="#ebebeb"/>
<rect x="79.88" y="294.06" width="15.24" height="7.98" fill="#f5f5f5"/><rect x="94.51" y="294.06" width="15.24" height="8.58" fill="#f5f5f5"/><rect x="109.15" y="294.06" width="15.24" height="8.58" fill="#ebebeb"/><rect x="123.79" y="294.06" width="15.24" height="8.58" fill="#a6a6a6"/><rect x="138.42" y="294.06" width="14.64" height="8.58" fill="#d9d9d9"/><rect x="167.70" y="294.06" width="15.24" height="8.58" fill="#ebebeb"/><rect x="182.34" y="294.06" width="14.64" height="7.98" fill="#ebebeb"/>
<rect x="94.51" y="302.04" width="15.24" height="8.58" fill="#f5f5f5"/><rect x="109.15" y="302.04" width="15.24" height="8.58" fill="#b2b2b2"/><rect x="123.79" y="302.04" width="15.24" height="8.58" fill="#bfbfbf"/><rect x="138.42" y="302.04" width="15.24" height="8.58" fill="#4d4d4d"/><rect x="153.06" y="302.04" width="15.24" height="8.58" fill="#525252"/><rect x="167.70" y="302.04" width="14.64" height="8.58" fill="#a6a6a6"/>
<rect x="79.88" y="310.02" width="15.24" height="8.58" fill="#ebebeb"/><rect x="94.51" y="310.02" width="15.24" height="8.58" fill="#d9d9d9"/><rect x="109.15" y="310.02" width="15.24" height="8.58" fill="#b8b8b8"/><rect x="123.79" y="310.02" width="15.24" height="8.58" fill="#999999"/><rect x="138.42" y="310.02" width="15.24" height="8.58" fill="#616161"/><rect x="153.06" y="310.02" width="15.24" height="8.58" fill="#bfbfbf"/><rect x="167.70" y="310.02" width="15.24" height="8.58" fill="#cccccc"/><rect x="182.34" y="310.02" width="14.64" height="8.58" fill="#c7c7c7"/>
<rect x="79.88" y="318.00" width="15.24" height="8.58" fill="#e6e6e6"/><rect x="94.51" y="318.00" width="15.24" height="8.58" fill="#b8b8b8"/><rect x="109.15" y="318.00" width="15.24" height="8.58" fill="#a6a6a6"/><rect x="123.79" y="318.00" width="15.24" height="8.58" fill="#737373"/><rect x="138.42" y="318.00" width="15.24" height="8.58" fill="#666666"/><rect x="153.06" y="318.00" width="15.24" height="8.58" fill="#c7c7c7"/><rect x="167.70" y="318.00" width="15.24" height="8.58" fill="#808080"/><rect x="182.34" y="318.00" width="15.24" height="8.58" fill="#e0e0e0"/><rect x="196.97" y="318.00" width="14.64" height="7.98" fill="#e6e6e6"/>
<rect x="65.24" y="325.98" width="15.24" height="7.98" fill="#f2f2f2"/><rect x="79.88" y="325.98" width="15.24" height="8.58" fill="#b2b2b2"/><rect x="94.51" y="325.98" width="15.24" height="8.58" fill="#bdbdbd"/><rect x="109.15" y="325.98" width="15.24" height="8.58" fill="#474747"/><rect x="123.79" y="325.98" width="15.24" height="8.58" fill="#212121"/><rect x="138.42" y="325.98" width="15.24" height="8.58" fill="#666666"/><rect x="153.06" y="325.98" width="15.24" height="8.58" fill="#666666"/><rect x="167.70" y="325.98" width="15.24" height="8.58" fill="#9e9e9e"/><rect x="182.34" y="325.98" width="14.64" height="8.58" fill="#e6e6e6"/>
<rect x="79.88" y="333.96" width="15.24" height="8.58" fill="#c7c7c7"/><rect x="94.51" y="333.96" width="15.24" height="8.58" fill="#6e6e6e"/><rect x="109.15" y="333.96" width="15.24" height="8.58" fill="#3b3b3b"/><rect x="123.79" y="333.96" width="15.24" height="8.58" fill="#616161"/><rect x="138.42" y="333.96" width="15.24" height="8.58" fill="#525252"/><rect x="153.06" y="333.96" width="15.24" height="8.58" fill="#bfbfbf"/><rect x="167.70" y="333.96" width="15.24" height="8.58" fill="#bdbdbd"/><rect x="182.34" y="333.96" width="14.64" height="8.58" fill="#ededed"/>
<rect x="79.88" y="341.94" width="15.24" height="8.58" fill="#d1d1d1"/><rect x="94.51" y="341.94" width="15.24" height="8.58" fill="#949494"/><rect x="109.15" y="341.94" width="15.24" height="8.58" fill="#808080"/><rect x="123.79" y="341.94" width="15.24" height="8.58" fill="#858585"/><rect x="138.42" y="341.94" width="15.24" height="8.58" fill="#333333"/><rect x="153.06" y="341.94" width="15.24" height="8.58" fill="#949494"/><rect x="167.70" y="341.94" width="15.24" height="8.58" fill="#d1d1d1"/><rect x="182.34" y="341.94" width="15.24" height="8.58" fill="#c7c7c7"/><rect x="196.97" y="341.94" width="14.64" height="7.98" fill="#ebebeb"/>
<rect x="65.24" y="349.92" width="15.24" height="8.58" fill="#d1d1d1"/><rect x="79.88" y="349.92" width="15.24" height="8.58" fill="#c7c7c7"/><rect x="94.51" y="349.92" width="15.24" height="8.58" fill="#666666"/><rect x="109.15" y="349.92" width="15.24" height="8.58" fill="#000000"/><rect x="123.79" y="349.92" width="15.24" height="8.58" fill="#949494"/><rect x="138.42" y="349.92" width="15.24" height="8.58" fill="#949494"/><rect x="153.06" y="349.92" width="15.24" height="8.58" fill="#ababab"/><rect x="167.70" y="349.92" width="15.24" height="8.58" fill="#cccccc"/><rect x="182.34" y="349.92" width="14.64" height="7.98" fill="#ebebeb"/>
<rect x="65.24" y="357.90" width="15.24" height="7.98" fill="#ebebeb"/><rect x="79.88" y="357.90" width="15.24" height="8.58" fill="#c7c7c7"/><rect x="94.51" y="357.90" width="15.24" height="8.58" fill="#999999"/><rect x="109.15" y="357.90" width="15.24" height="8.58" fill="#383838"/><rect x="123.79" y="357.90" width="15.24" height="8.58" fill="#333333"/><rect x="138.42" y="357.90" width="15.24" height="8.58" fill="#999999"/><rect x="153.06" y="357.90" width="15.24" height="8.58" fill="#d1d1d1"/><rect x="167.70" y="357.90" width="14.64" height="8.58" fill="#d1d1d1"/><rect x="196.97" y="357.90" width="14.64" height="7.98" fill="#e6e6e6"/>
<rect x="79.88" y="365.88" width="15.24" height="8.58" fill="#c7c7c7"/><rect x="94.51" y="365.88" width="15.24" height="8.58" fill="#8c8c8c"/><rect x="109.15" y="365.88" width="15.24" height="8.58" fill="#8c8c8c"/><rect x="123.79" y="365.88" width="15.24" height="8.58" fill="#ababab"/><rect x="138.42" y="365.88" width="15.24" height="8.58" fill="#cccccc"/><rect x="153.06" y="365.88" width="15.24" height="8.58" fill="#a6a6a6"/><rect x="167.70" y="365.88" width="15.24" height="7.98" fill="#f5f5f5"/><rect x="182.34" y="365.88" width="14.64" height="7.98" fill="#e6e6e6"/>
<rect x="79.88" y="373.86" width="15.24" height="8.58" fill="#ededed"/><rect x="94.51" y="373.86" width="15.24" height="8.58" fill="#b2b2b2"/><rect x="109.15" y="373.86" width="15.24" height="8.58" fill="#d9d9d9"/><rect x="123.79" y="373.86" width="15.24" height="8.58" fill="#8c8c8c"/><rect x="138.42" y="373.86" width="15.24" height="8.58" fill="#e0e0e0"/><rect x="153.06" y="373.86" width="14.64" height="8.58" fill="#f2f2f2"/>
<rect x="79.88" y="381.84" width="15.24" height="7.98" fill="#d9d9d9"/><rect x="94.51" y="381.84" width="15.24" height="8.58" fill="#ebebeb"/><rect x="109.15" y="381.84" width="15.24" height="7.98" fill="#bfbfbf"/><rect x="123.79" y="381.84" width="15.24" height="7.98" fill="#bfbfbf"/><rect x="138.42" y="381.84" width="15.24" height="8.58" fill="#e6e6e6"/><rect x="153.06" y="381.84" width="15.24" height="7.98" fill="#dedede"/><rect x="167.70" y="381.84" width="14.64" height="8.58" fill="#f0f0f0"/>
<rect x="94.51" y="389.82" width="14.64" height="7.98" fill="#ededed"/><rect x="138.42" y="389.82" width="14.64" height="7.98" fill="#f5f5f5"/><rect x="167.70" y="389.82" width="14.64" height="7.98" fill="#f5f5f5"/>
<rect x="109.15" y="397.80" width="15.24" height="7.98" fill="#f2f2f2"/><rect x="123.79" y="397.80" width="14.64" height="7.98" fill="#ebebeb"/>
</g>
<rect x="47.0" y="226.5" width="182.8" height="182.8" fill="none" stroke="#505050" stroke-width="0.8"/>
<path d="M50.6 409.2v-1.6M50.6 226.5v1.6M56.5 409.2v-0.9M56.5 226.5v0.9M62.3 409.2v-0.9M62.3 226.5v0.9M68.2 409.2v-0.9M68.2 226.5v0.9M74.0 409.2v-0.9M74.0 226.5v0.9M79.9 409.2v-1.6M79.9 226.5v1.6M85.7 409.2v-0.9M85.7 226.5v0.9M91.6 409.2v-0.9M91.6 226.5v0.9M97.4 409.2v-0.9M97.4 226.5v0.9M103.3 409.2v-0.9M103.3 226.5v0.9M109.2 409.2v-1.6M109.2 226.5v1.6M115.0 409.2v-0.9M115.0 226.5v0.9M120.9 409.2v-0.9M120.9 226.5v0.9M126.7 409.2v-0.9M126.7 226.5v0.9M132.6 409.2v-0.9M132.6 226.5v0.9M138.4 409.2v-1.6M138.4 226.5v1.6M144.3 409.2v-0.9M144.3 226.5v0.9M150.1 409.2v-0.9M150.1 226.5v0.9M156.0 409.2v-0.9M156.0 226.5v0.9M161.8 409.2v-0.9M161.8 226.5v0.9M167.7 409.2v-1.6M167.7 226.5v1.6M173.6 409.2v-0.9M173.6 226.5v0.9M179.4 409.2v-0.9M179.4 226.5v0.9M185.3 409.2v-0.9M185.3 226.5v0.9M191.1 409.2v-0.9M191.1 226.5v0.9M197.0 409.2v-1.6M197.0 226.5v1.6M202.8 409.2v-0.9M202.8 226.5v0.9M208.7 409.2v-0.9M208.7 226.5v0.9M214.5 409.2v-0.9M214.5 226.5v0.9M220.4 409.2v-0.9M220.4 226.5v0.9M226.2 409.2v-1.6M226.2 226.5v1.6M47.0 405.8h0.9M229.8 405.8h-0.9M47.0 397.8h1.6M229.8 397.8h-1.6M47.0 389.8h0.9M229.8 389.8h-0.9M47.0 381.8h0.9M229.8 381.8h-0.9M47.0 373.9h0.9M229.8 373.9h-0.9M47.0 365.9h0.9M229.8 365.9h-0.9M47.0 357.9h1.6M229.8 357.9h-1.6M47.0 349.9h0.9M229.8 349.9h-0.9M47.0 341.9h0.9M229.8 341.9h-0.9M47.0 334.0h0.9M229.8 334.0h-0.9M47.0 326.0h0.9M229.8 326.0h-0.9M47.0 318.0h1.6M229.8 318.0h-1.6M47.0 310.0h0.9M229.8 310.0h-0.9M47.0 302.0h0.9M229.8 302.0h-0.9M47.0 294.1h0.9M229.8 294.1h-0.9M47.0 286.1h0.9M229.8 286.1h-0.9M47.0 278.1h1.6M229.8 278.1h-1.6M47.0 270.1h0.9M229.8 270.1h-0.9M47.0 262.1h0.9M229.8 262.1h-0.9M47.0 254.2h0.9M229.8 254.2h-0.9M47.0 246.2h0.9M229.8 246.2h-0.9M47.0 238.2h1.6M229.8 238.2h-1.6M47.0 230.2h0.9M229.8 230.2h-0.9" stroke="#555" stroke-width="0.7" fill="none"/>
<g filter="url(#tb)">
<text class="t" x="50.6" y="424.9" text-anchor="middle">2</text><text class="t" x="79.9" y="424.9" text-anchor="middle">3</text><text class="t" x="109.2" y="424.9" text-anchor="middle">4</text><text class="t" x="138.4" y="424.9" text-anchor="middle">5</text><text class="t" x="167.7" y="424.9" text-anchor="middle">6</text><text class="t" x="197.0" y="424.9" text-anchor="middle">7</text><text class="t" x="226.2" y="424.9" text-anchor="middle">8</text>
<text class="t" x="42.8" y="401.9" text-anchor="end" letter-spacing="0.35">0.15</text><text class="t" x="42.8" y="362.0" text-anchor="end" letter-spacing="0.35">0.20</text><text class="t" x="42.8" y="322.1" text-anchor="end" letter-spacing="0.35">0.25</text><text class="t" x="42.8" y="282.2" text-anchor="end" letter-spacing="0.35">0.30</text><text class="t" x="42.8" y="242.3" text-anchor="end" letter-spacing="0.35">0.35</text>
</g>
<text class="l" text-anchor="middle" textLength="85.0" lengthAdjust="spacingAndGlyphs" transform="translate(11.5 317.8) rotate(-90)">Connectance</text>
<text class="l" text-anchor="middle" textLength="73.0" lengthAdjust="spacingAndGlyphs" x="140.3" y="445.4">Invasibility</text>
</g>
<g>
<g filter="url(#b)">
<rect x="420.96" y="272.48" width="14.64" height="6.08" fill="#ebebeb"/>
<rect x="347.74" y="284.62" width="14.64" height="6.08" fill="#f2f2f2"/><rect x="377.02" y="284.62" width="14.64" height="6.08" fill="#f5f5f5"/>
<rect x="391.67" y="290.70" width="15.24" height="6.67" fill="#f5f5f5"/><rect x="406.31" y="290.70" width="14.64" height="6.67" fill="#ebebeb"/><rect x="435.61" y="290.70" width="14.64" height="6.67" fill="#f2f2f2"/>
<rect x="347.74" y="296.77" width="14.64" height="6.67" fill="#f5f5f5"/><rect x="377.02" y="296.77" width="15.24" height="6.67" fill="#f2f2f2"/><rect x="391.67" y="296.77" width="15.24" height="6.67" fill="#f5f5f5"/><rect x="406.31" y="296.77" width="15.24" height="6.67" fill="#cccccc"/><rect x="420.96" y="296.77" width="15.24" height="6.67" fill="#f5f5f5"/><rect x="435.61" y="296.77" width="14.64" height="6.67" fill="#d9d9d9"/>
<rect x="347.74" y="302.85" width="15.24" height="6.67" fill="#f5f5f5"/><rect x="362.38" y="302.85" width="15.24" height="6.67" fill="#f7f7f7"/><rect x="377.02" y="302.85" width="15.24" height="6.67" fill="#ebebeb"/><rect x="391.67" y="302.85" width="15.24" height="6.67" fill="#d9d9d9"/><rect x="406.31" y="302.85" width="15.24" height="6.67" fill="#f5f5f5"/><rect x="420.96" y="302.85" width="15.24" height="6.67" fill="#f5f5f5"/><rect x="435.61" y="302.85" width="14.64" height="6.67" fill="#f5f5f5"/>
<rect x="347.74" y="308.93" width="15.24" height="6.67" fill="#e0e0e0"/><rect x="362.38" y="308.93" width="15.24" height="6.67" fill="#f5f5f5"/><rect x="377.02" y="308.93" width="15.24" height="6.67" fill="#e0e0e0"/><rect x="391.67" y="308.93" width="15.24" height="6.67" fill="#e6e6e6"/><rect x="406.31" y="308.93" width="15.24" height="6.67" fill="#d9d9d9"/><rect x="420.96" y="308.93" width="15.24" height="6.67" fill="#ebebeb"/><rect x="435.61" y="308.93" width="14.64" height="6.08" fill="#f5f5f5"/>
<rect x="347.74" y="315.00" width="15.24" height="6.67" fill="#dedede"/><rect x="362.38" y="315.00" width="15.24" height="6.67" fill="#e0e0e0"/><rect x="377.02" y="315.00" width="15.24" height="6.67" fill="#d9d9d9"/><rect x="391.67" y="315.00" width="15.24" height="6.67" fill="#a6a6a6"/><rect x="406.31" y="315.00" width="15.24" height="6.67" fill="#ebebeb"/><rect x="420.96" y="315.00" width="14.64" height="6.67" fill="#dedede"/><rect x="450.25" y="315.00" width="14.64" height="6.67" fill="#ebebeb"/>
<rect x="333.09" y="321.07" width="15.24" height="6.67" fill="#ebebeb"/><rect x="347.74" y="321.07" width="15.24" height="6.67" fill="#b2b2b2"/><rect x="362.38" y="321.07" width="15.24" height="6.67" fill="#999999"/><rect x="377.02" y="321.07" width="15.24" height="6.67" fill="#808080"/><rect x="391.67" y="321.07" width="15.24" height="6.67" fill="#b8b8b8"/><rect x="406.31" y="321.07" width="15.24" height="6.67" fill="#b8b8b8"/><rect x="420.96" y="321.07" width="14.64" height="6.67" fill="#d9d9d9"/><rect x="450.25" y="321.07" width="14.64" height="6.67" fill="#f2f2f2"/>
<rect x="318.44" y="327.15" width="15.24" height="6.67" fill="#f5f5f5"/><rect x="333.09" y="327.15" width="15.24" height="6.67" fill="#e8e8e8"/><rect x="347.74" y="327.15" width="15.24" height="6.67" fill="#e6e6e6"/><rect x="362.38" y="327.15" width="15.24" height="6.67" fill="#595959"/><rect x="377.02" y="327.15" width="15.24" height="6.67" fill="#9e9e9e"/><rect x="391.67" y="327.15" width="15.24" height="6.67" fill="#b8b8b8"/><rect x="406.31" y="327.15" width="15.24" height="6.67" fill="#b8b8b8"/><rect x="420.96" y="327.15" width="15.24" height="6.67" fill="#d9d9d9"/><rect x="435.61" y="327.15" width="15.24" height="6.67" fill="#bababa"/><rect x="450.25" y="327.15" width="14.64" height="6.67" fill="#e3e3e3"/>
<rect x="318.44" y="333.23" width="15.24" height="6.67" fill="#f5f5f5"/><rect x="333.09" y="333.23" width="15.24" height="6.67" fill="#d1d1d1"/><rect x="347.74" y="333.23" width="15.24" height="6.67" fill="#a6a6a6"/><rect x="362.38" y="333.23" width="15.24" height="6.67" fill="#828282"/><rect x="377.02" y="333.23" width="15.24" height="6.67" fill="#363636"/><rect x="391.67" y="333.23" width="15.24" height="6.67" fill="#363636"/><rect x="406.31" y="333.23" width="15.24" height="6.67" fill="#adadad"/><rect x="420.96" y="333.23" width="15.24" height="6.67" fill="#b8b8b8"/><rect x="435.61" y="333.23" width="15.24" height="6.67" fill="#e6e6e6"/><rect x="450.25" y="333.23" width="14.64" height="6.08" fill="#f5f5f5"/>
<rect x="318.44" y="339.30" width="15.24" height="6.67" fill="#ebebeb"/><rect x="333.09" y="339.30" width="15.24" height="6.67" fill="#cfcfcf"/><rect x="347.74" y="339.30" width="15.24" height="6.67" fill="#ababab"/><rect x="362.38" y="339.30" width="15.24" height="6.67" fill="#4d4d4d"/><rect x="377.02" y="339.30" width="15.24" height="6.67" fill="#262626"/><rect x="391.67" y="339.30" width="15.24" height="6.67" fill="#383838"/><rect x="406.31" y="339.30" width="15.24" height="6.67" fill="#999999"/><rect x="420.96" y="339.30" width="15.24" height="6.67" fill="#b8b8b8"/><rect x="435.61" y="339.30" width="14.64" height="6.67" fill="#d6d6d6"/>
<rect x="318.44" y="345.38" width="15.24" height="6.67" fill="#f5f5f5"/><rect x="333.09" y="345.38" width="15.24" height="6.67" fill="#a6a6a6"/><rect x="347.74" y="345.38" width="15.24" height="6.67" fill="#969696"/><rect x="362.38" y="345.38" width="15.24" height="6.67" fill="#191919"/><rect x="377.02" y="345.38" width="15.24" height="6.67" fill="#000000"/><rect x="391.67" y="345.38" width="15.24" height="6.67" fill="#5e5e5e"/><rect x="406.31" y="345.38" width="15.24" height="6.67" fill="#a8a8a8"/><rect x="420.96" y="345.38" width="15.24" height="6.67" fill="#808080"/><rect x="435.61" y="345.38" width="14.64" height="6.67" fill="#e0e0e0"/>
<rect x="318.44" y="351.45" width="15.24" height="6.67" fill="#f5f5f5"/><rect x="333.09" y="351.45" width="15.24" height="6.67" fill="#d1d1d1"/><rect x="347.74" y="351.45" width="15.24" height="6.67" fill="#8c8c8c"/><rect x="362.38" y="351.45" width="15.24" height="6.67" fill="#666666"/><rect x="377.02" y="351.45" width="15.24" height="6.67" fill="#2e2e2e"/><rect x="391.67" y="351.45" width="15.24" height="6.67" fill="#474747"/><rect x="406.31" y="351.45" width="15.24" height="6.67" fill="#666666"/><rect x="420.96" y="351.45" width="15.24" height="6.67" fill="#666666"/><rect x="435.61" y="351.45" width="15.24" height="6.67" fill="#e0e0e0"/><rect x="450.25" y="351.45" width="14.64" height="6.67" fill="#f5f5f5"/>
<rect x="318.44" y="357.52" width="15.24" height="6.08" fill="#f5f5f5"/><rect x="333.09" y="357.52" width="15.24" height="6.67" fill="#b8b8b8"/><rect x="347.74" y="357.52" width="15.24" height="6.67" fill="#a6a6a6"/><rect x="362.38" y="357.52" width="15.24" height="6.67" fill="#262626"/><rect x="377.02" y="357.52" width="15.24" height="6.67" fill="#808080"/><rect x="391.67" y="357.52" width="15.24" height="6.67" fill="#474747"/><rect x="406.31" y="357.52" width="15.24" height="6.67" fill="#808080"/><rect x="420.96" y="357.52" width="15.24" height="6.67" fill="#bfbfbf"/><rect x="435.61" y="357.52" width="15.24" height="6.67" fill="#f5f5f5"/><rect x="450.25" y="357.52" width="14.64" height="6.67" fill="#ebebeb"/>
<rect x="333.09" y="363.60" width="15.24" height="6.08" fill="#b8b8b8"/><rect x="347.74" y="363.60" width="15.24" height="6.67" fill="#666666"/><rect x="362.38" y="363.60" width="15.24" height="6.67" fill="#595959"/><rect x="377.02" y="363.60" width="15.24" height="6.67" fill="#8c8c8c"/><rect x="391.67" y="363.60" width="15.24" height="6.67" fill="#737373"/><rect x="406.31" y="363.60" width="15.24" height="6.67" fill="#c7c7c7"/><rect x="420.96" y="363.60" width="15.24" height="6.08" fill="#cccccc"/><rect x="435.61" y="363.60" width="15.24" height="6.08" fill="#d9d9d9"/><rect x="450.25" y="363.60" width="14.64" height="6.08" fill="#f5f5f5"/>
<rect x="347.74" y="369.68" width="15.24" height="6.67" fill="#ababab"/><rect x="362.38" y="369.68" width="15.24" height="6.67" fill="#9e9e9e"/><rect x="377.02" y="369.68" width="15.24" height="6.67" fill="#808080"/><rect x="391.67" y="369.68" width="15.24" height="6.67" fill="#808080"/><rect x="406.31" y="369.68" width="14.64" height="6.67" fill="#d9d9d9"/>
<rect x="333.09" y="375.75" width="15.24" height="6.67" fill="#d9d9d9"/><rect x="347.74" y="375.75" width="15.24" height="6.67" fill="#d9d9d9"/><rect x="362.38" y="375.75" width="15.24" height="6.67" fill="#9e9e9e"/><rect x="377.02" y="375.75" width="15.24" height="6.67" fill="#d1d1d1"/><rect x="391.67" y="375.75" width="15.24" height="6.08" fill="#a6a6a6"/><rect x="406.31" y="375.75" width="15.24" height="6.08" fill="#e0e0e0"/><rect x="420.96" y="375.75" width="14.64" height="6.08" fill="#ebebeb"/>
<rect x="333.09" y="381.82" width="15.24" height="6.08" fill="#f5f5f5"/><rect x="347.74" y="381.82" width="15.24" height="6.08" fill="#e0e0e0"/><rect x="362.38" y="381.82" width="15.24" height="6.08" fill="#ededed"/><rect x="377.02" y="381.82" width="14.64" height="6.67" fill="#f2f2f2"/>
<rect x="377.02" y="387.90" width="14.64" height="6.08" fill="#f5f5f5"/>
</g>
<rect x="300.6" y="226.5" width="183.2" height="182.8" fill="none" stroke="#505050" stroke-width="0.8"/>
<path d="M303.8 409.2v-1.6M303.8 226.5v1.6M309.7 409.2v-0.9M309.7 226.5v0.9M315.5 409.2v-0.9M315.5 226.5v0.9M321.4 409.2v-0.9M321.4 226.5v0.9M327.2 409.2v-0.9M327.2 226.5v0.9M333.1 409.2v-1.6M333.1 226.5v1.6M338.9 409.2v-0.9M338.9 226.5v0.9M344.8 409.2v-0.9M344.8 226.5v0.9M350.7 409.2v-0.9M350.7 226.5v0.9M356.5 409.2v-0.9M356.5 226.5v0.9M362.4 409.2v-1.6M362.4 226.5v1.6M368.2 409.2v-0.9M368.2 226.5v0.9M374.1 409.2v-0.9M374.1 226.5v0.9M380.0 409.2v-0.9M380.0 226.5v0.9M385.8 409.2v-0.9M385.8 226.5v0.9M391.7 409.2v-1.6M391.7 226.5v1.6M397.5 409.2v-0.9M397.5 226.5v0.9M403.4 409.2v-0.9M403.4 226.5v0.9M409.2 409.2v-0.9M409.2 226.5v0.9M415.1 409.2v-0.9M415.1 226.5v0.9M421.0 409.2v-1.6M421.0 226.5v1.6M426.8 409.2v-0.9M426.8 226.5v0.9M432.7 409.2v-0.9M432.7 226.5v0.9M438.5 409.2v-0.9M438.5 226.5v0.9M444.4 409.2v-0.9M444.4 226.5v0.9M450.2 409.2v-1.6M450.2 226.5v1.6M456.1 409.2v-0.9M456.1 226.5v0.9M462.0 409.2v-0.9M462.0 226.5v0.9M467.8 409.2v-0.9M467.8 226.5v0.9M473.7 409.2v-0.9M473.7 226.5v0.9M479.5 409.2v-1.6M479.5 226.5v1.6M300.6 406.1h0.9M483.8 406.1h-0.9M300.6 400.1h0.9M483.8 400.1h-0.9M300.6 394.0h0.9M483.8 394.0h-0.9M300.6 387.9h1.6M483.8 387.9h-1.6M300.6 381.8h0.9M483.8 381.8h-0.9M300.6 375.8h0.9M483.8 375.8h-0.9M300.6 369.7h0.9M483.8 369.7h-0.9M300.6 363.6h1.6M483.8 363.6h-1.6M300.6 357.5h0.9M483.8 357.5h-0.9M300.6 351.4h0.9M483.8 351.4h-0.9M300.6 345.4h0.9M483.8 345.4h-0.9M300.6 339.3h1.6M483.8 339.3h-1.6M300.6 333.2h0.9M483.8 333.2h-0.9M300.6 327.1h0.9M483.8 327.1h-0.9M300.6 321.1h0.9M483.8 321.1h-0.9M300.6 315.0h1.6M483.8 315.0h-1.6M300.6 308.9h0.9M483.8 308.9h-0.9M300.6 302.9h0.9M483.8 302.9h-0.9M300.6 296.8h0.9M483.8 296.8h-0.9M300.6 290.7h1.6M483.8 290.7h-1.6M300.6 284.6h0.9M483.8 284.6h-0.9M300.6 278.6h0.9M483.8 278.6h-0.9M300.6 272.5h0.9M483.8 272.5h-0.9M300.6 266.4h1.6M483.8 266.4h-1.6M300.6 260.3h0.9M483.8 260.3h-0.9M300.6 254.2h0.9M483.8 254.2h-0.9M300.6 248.2h0.9M483.8 248.2h-0.9M300.6 242.1h1.6M483.8 242.1h-1.6M300.6 236.0h0.9M483.8 236.0h-0.9M300.6 229.9h0.9M483.8 229.9h-0.9" stroke="#555" stroke-width="0.7" fill="none"/>
<g filter="url(#tb)">
<text class="t" x="303.8" y="425.3" text-anchor="middle">2</text><text class="t" x="333.1" y="425.3" text-anchor="middle">3</text><text class="t" x="362.4" y="425.3" text-anchor="middle">4</text><text class="t" x="391.7" y="425.3" text-anchor="middle">5</text><text class="t" x="421.0" y="425.3" text-anchor="middle">6</text><text class="t" x="450.2" y="425.3" text-anchor="middle">7</text><text class="t" x="479.5" y="425.3" text-anchor="middle">8</text>
<text class="t" x="296.7" y="392.0" text-anchor="end" letter-spacing="0.35"><tspan stroke="#000" stroke-width="0.25">−</tspan><tspan dx="1.4">0.6</tspan></text><text class="t" x="296.7" y="367.7" text-anchor="end" letter-spacing="0.35"><tspan stroke="#000" stroke-width="0.25">−</tspan><tspan dx="1.4">0.4</tspan></text><text class="t" x="296.7" y="343.4" text-anchor="end" letter-spacing="0.35"><tspan stroke="#000" stroke-width="0.25">−</tspan><tspan dx="1.4">0.2</tspan></text><text class="t" x="296.7" y="319.1" text-anchor="end" letter-spacing="0.35">0.0</text><text class="t" x="296.7" y="294.8" text-anchor="end" letter-spacing="0.35">0.2</text><text class="t" x="296.7" y="270.5" text-anchor="end" letter-spacing="0.35">0.4</text><text class="t" x="296.7" y="246.2" text-anchor="end" letter-spacing="0.35">0.6</text>
</g>
<text class="l" text-anchor="middle" textLength="77.5" lengthAdjust="spacingAndGlyphs" transform="translate(259.2 314.0) rotate(-90)">Nestedness</text>
<text class="l" text-anchor="middle" textLength="73.0" lengthAdjust="spacingAndGlyphs" x="398.8" y="445.4">Invasibility</text>
</g>
<g>
<g filter="url(#b)">
<rect x="682.70" y="259.80" width="14.70" height="9.68" fill="#f5f5f5"/>
<rect x="697.40" y="269.48" width="15.30" height="10.28" fill="#f5f5f5"/><rect x="712.10" y="269.48" width="14.70" height="10.28" fill="#f5f5f5"/>
<rect x="668.00" y="279.16" width="14.70" height="10.28" fill="#d1d1d1"/><rect x="697.40" y="279.16" width="15.30" height="10.28" fill="#f5f5f5"/><rect x="712.10" y="279.16" width="14.70" height="9.68" fill="#f5f5f5"/>
<rect x="623.90" y="288.84" width="15.30" height="10.28" fill="#f5f5f5"/><rect x="638.60" y="288.84" width="15.30" height="10.28" fill="#f5f5f5"/><rect x="653.30" y="288.84" width="15.30" height="10.28" fill="#e6e6e6"/><rect x="668.00" y="288.84" width="15.30" height="10.28" fill="#dedede"/><rect x="682.70" y="288.84" width="15.30" height="10.28" fill="#cccccc"/><rect x="697.40" y="288.84" width="14.70" height="10.28" fill="#e6e6e6"/>
<rect x="594.50" y="298.52" width="14.70" height="10.28" fill="#f5f5f5"/><rect x="623.90" y="298.52" width="15.30" height="10.28" fill="#d1d1d1"/><rect x="638.60" y="298.52" width="15.30" height="10.28" fill="#bababa"/><rect x="653.30" y="298.52" width="15.30" height="10.28" fill="#949494"/><rect x="668.00" y="298.52" width="15.30" height="10.28" fill="#cccccc"/><rect x="682.70" y="298.52" width="15.30" height="10.28" fill="#bababa"/><rect x="697.40" y="298.52" width="15.30" height="10.28" fill="#dedede"/><rect x="712.10" y="298.52" width="14.70" height="10.28" fill="#e6e6e6"/>
<rect x="594.50" y="308.20" width="15.30" height="10.28" fill="#d4d4d4"/><rect x="609.20" y="308.20" width="15.30" height="10.28" fill="#d4d4d4"/><rect x="623.90" y="308.20" width="15.30" height="10.28" fill="#a6a6a6"/><rect x="638.60" y="308.20" width="15.30" height="10.28" fill="#6b6b6b"/><rect x="653.30" y="308.20" width="15.30" height="10.28" fill="#8c8c8c"/><rect x="668.00" y="308.20" width="15.30" height="10.28" fill="#999999"/><rect x="682.70" y="308.20" width="15.30" height="10.28" fill="#cccccc"/><rect x="697.40" y="308.20" width="15.30" height="10.28" fill="#bababa"/><rect x="712.10" y="308.20" width="14.70" height="9.68" fill="#f5f5f5"/>
<rect x="594.50" y="317.88" width="15.30" height="9.68" fill="#d9d9d9"/><rect x="609.20" y="317.88" width="15.30" height="10.28" fill="#bfbfbf"/><rect x="623.90" y="317.88" width="15.30" height="10.28" fill="#8c8c8c"/><rect x="638.60" y="317.88" width="15.30" height="10.28" fill="#ababab"/><rect x="653.30" y="317.88" width="15.30" height="10.28" fill="#474747"/><rect x="668.00" y="317.88" width="15.30" height="10.28" fill="#d1d1d1"/><rect x="682.70" y="317.88" width="15.30" height="10.28" fill="#cccccc"/><rect x="697.40" y="317.88" width="14.70" height="10.28" fill="#ededed"/>
<rect x="579.80" y="327.56" width="14.70" height="9.68" fill="#f5f5f5"/><rect x="609.20" y="327.56" width="15.30" height="10.28" fill="#cccccc"/><rect x="623.90" y="327.56" width="15.30" height="10.28" fill="#999999"/><rect x="638.60" y="327.56" width="15.30" height="10.28" fill="#808080"/><rect x="653.30" y="327.56" width="15.30" height="10.28" fill="#737373"/><rect x="668.00" y="327.56" width="15.30" height="10.28" fill="#9e9e9e"/><rect x="682.70" y="327.56" width="15.30" height="10.28" fill="#b2b2b2"/><rect x="697.40" y="327.56" width="15.30" height="9.68" fill="#ebebeb"/><rect x="712.10" y="327.56" width="14.70" height="9.68" fill="#f5f5f5"/>
<rect x="594.50" y="337.24" width="15.30" height="10.28" fill="#d9d9d9"/><rect x="609.20" y="337.24" width="15.30" height="10.28" fill="#cccccc"/><rect x="623.90" y="337.24" width="15.30" height="10.28" fill="#808080"/><rect x="638.60" y="337.24" width="15.30" height="10.28" fill="#333333"/><rect x="653.30" y="337.24" width="15.30" height="10.28" fill="#9e9e9e"/><rect x="668.00" y="337.24" width="15.30" height="10.28" fill="#858585"/><rect x="682.70" y="337.24" width="14.70" height="10.28" fill="#bfbfbf"/>
<rect x="594.50" y="346.92" width="15.30" height="10.28" fill="#ebebeb"/><rect x="609.20" y="346.92" width="15.30" height="10.28" fill="#b2b2b2"/><rect x="623.90" y="346.92" width="15.30" height="10.28" fill="#737373"/><rect x="638.60" y="346.92" width="15.30" height="10.28" fill="#808080"/><rect x="653.30" y="346.92" width="15.30" height="10.28" fill="#8c8c8c"/><rect x="668.00" y="346.92" width="15.30" height="10.28" fill="#cccccc"/><rect x="682.70" y="346.92" width="15.30" height="10.28" fill="#ededed"/><rect x="697.40" y="346.92" width="14.70" height="10.28" fill="#f5f5f5"/>
<rect x="594.50" y="356.60" width="15.30" height="10.28" fill="#cccccc"/><rect x="609.20" y="356.60" width="15.30" height="10.28" fill="#a6a6a6"/><rect x="623.90" y="356.60" width="15.30" height="10.28" fill="#b2b2b2"/><rect x="638.60" y="356.60" width="15.30" height="10.28" fill="#b2b2b2"/><rect x="653.30" y="356.60" width="15.30" height="10.28" fill="#858585"/><rect x="668.00" y="356.60" width="15.30" height="10.28" fill="#cccccc"/><rect x="682.70" y="356.60" width="15.30" height="10.28" fill="#8c8c8c"/><rect x="697.40" y="356.60" width="14.70" height="10.28" fill="#e0e0e0"/>
<rect x="579.80" y="366.28" width="15.30" height="10.28" fill="#ededed"/><rect x="594.50" y="366.28" width="15.30" height="10.28" fill="#e0e0e0"/><rect x="609.20" y="366.28" width="15.30" height="10.28" fill="#a6a6a6"/><rect x="623.90" y="366.28" width="15.30" height="10.28" fill="#9e9e9e"/><rect x="638.60" y="366.28" width="15.30" height="10.28" fill="#595959"/><rect x="653.30" y="366.28" width="15.30" height="10.28" fill="#6b6b6b"/><rect x="668.00" y="366.28" width="15.30" height="10.28" fill="#d1d1d1"/><rect x="682.70" y="366.28" width="15.30" height="10.28" fill="#e0e0e0"/><rect x="697.40" y="366.28" width="15.30" height="9.68" fill="#e0e0e0"/><rect x="712.10" y="366.28" width="14.70" height="10.28" fill="#f5f5f5"/>
<rect x="579.80" y="375.96" width="15.30" height="9.68" fill="#f5f5f5"/><rect x="594.50" y="375.96" width="15.30" height="10.28" fill="#cccccc"/><rect x="609.20" y="375.96" width="15.30" height="10.28" fill="#525252"/><rect x="623.90" y="375.96" width="15.30" height="10.28" fill="#2e2e2e"/><rect x="638.60" y="375.96" width="15.30" height="10.28" fill="#8c8c8c"/><rect x="653.30" y="375.96" width="15.30" height="10.28" fill="#4d4d4d"/><rect x="668.00" y="375.96" width="15.30" height="10.28" fill="#949494"/><rect x="682.70" y="375.96" width="14.70" height="10.28" fill="#e0e0e0"/><rect x="712.10" y="375.96" width="14.70" height="9.68" fill="#f5f5f5"/>
<rect x="594.50" y="385.64" width="15.30" height="10.28" fill="#e0e0e0"/><rect x="609.20" y="385.64" width="15.30" height="10.28" fill="#404040"/><rect x="623.90" y="385.64" width="15.30" height="10.28" fill="#000000"/><rect x="638.60" y="385.64" width="15.30" height="10.28" fill="#262626"/><rect x="653.30" y="385.64" width="15.30" height="10.28" fill="#bfbfbf"/><rect x="668.00" y="385.64" width="15.30" height="10.28" fill="#b2b2b2"/><rect x="682.70" y="385.64" width="15.30" height="10.28" fill="#e0e0e0"/><rect x="697.40" y="385.64" width="14.70" height="10.28" fill="#ededed"/>
<rect x="579.80" y="395.32" width="15.30" height="9.68" fill="#e0e0e0"/><rect x="594.50" y="395.32" width="15.30" height="9.68" fill="#8c8c8c"/><rect x="609.20" y="395.32" width="15.30" height="9.68" fill="#c7c7c7"/><rect x="623.90" y="395.32" width="15.30" height="9.68" fill="#a6a6a6"/><rect x="638.60" y="395.32" width="15.30" height="9.68" fill="#a6a6a6"/><rect x="653.30" y="395.32" width="15.30" height="9.68" fill="#bfbfbf"/><rect x="668.00" y="395.32" width="15.30" height="9.68" fill="#ebebeb"/><rect x="682.70" y="395.32" width="15.30" height="9.68" fill="#f0f0f0"/><rect x="697.40" y="395.32" width="14.70" height="9.68" fill="#e6e6e6"/>
</g>
<rect x="561.7" y="226.5" width="183.6" height="182.8" fill="none" stroke="#505050" stroke-width="0.8"/>
<path d="M565.1 409.2v-1.6M565.1 226.5v1.6M571.0 409.2v-0.9M571.0 226.5v0.9M576.9 409.2v-0.9M576.9 226.5v0.9M582.7 409.2v-0.9M582.7 226.5v0.9M588.6 409.2v-0.9M588.6 226.5v0.9M594.5 409.2v-1.6M594.5 226.5v1.6M600.4 409.2v-0.9M600.4 226.5v0.9M606.3 409.2v-0.9M606.3 226.5v0.9M612.1 409.2v-0.9M612.1 226.5v0.9M618.0 409.2v-0.9M618.0 226.5v0.9M623.9 409.2v-1.6M623.9 226.5v1.6M629.8 409.2v-0.9M629.8 226.5v0.9M635.7 409.2v-0.9M635.7 226.5v0.9M641.5 409.2v-0.9M641.5 226.5v0.9M647.4 409.2v-0.9M647.4 226.5v0.9M653.3 409.2v-1.6M653.3 226.5v1.6M659.2 409.2v-0.9M659.2 226.5v0.9M665.1 409.2v-0.9M665.1 226.5v0.9M670.9 409.2v-0.9M670.9 226.5v0.9M676.8 409.2v-0.9M676.8 226.5v0.9M682.7 409.2v-1.6M682.7 226.5v1.6M688.6 409.2v-0.9M688.6 226.5v0.9M694.5 409.2v-0.9M694.5 226.5v0.9M700.3 409.2v-0.9M700.3 226.5v0.9M706.2 409.2v-0.9M706.2 226.5v0.9M712.1 409.2v-1.6M712.1 226.5v1.6M718.0 409.2v-0.9M718.0 226.5v0.9M723.9 409.2v-0.9M723.9 226.5v0.9M729.7 409.2v-0.9M729.7 226.5v0.9M735.6 409.2v-0.9M735.6 226.5v0.9M741.5 409.2v-1.6M741.5 226.5v1.6M561.7 405.0h1.6M745.3 405.0h-1.6M561.7 395.3h0.9M745.3 395.3h-0.9M561.7 385.6h0.9M745.3 385.6h-0.9M561.7 376.0h0.9M745.3 376.0h-0.9M561.7 366.3h0.9M745.3 366.3h-0.9M561.7 356.6h1.6M745.3 356.6h-1.6M561.7 346.9h0.9M745.3 346.9h-0.9M561.7 337.2h0.9M745.3 337.2h-0.9M561.7 327.6h0.9M745.3 327.6h-0.9M561.7 317.9h0.9M745.3 317.9h-0.9M561.7 308.2h1.6M745.3 308.2h-1.6M561.7 298.5h0.9M745.3 298.5h-0.9M561.7 288.8h0.9M745.3 288.8h-0.9M561.7 279.2h0.9M745.3 279.2h-0.9M561.7 269.5h0.9M745.3 269.5h-0.9M561.7 259.8h1.6M745.3 259.8h-1.6M561.7 250.1h0.9M745.3 250.1h-0.9M561.7 240.4h0.9M745.3 240.4h-0.9M561.7 230.8h0.9M745.3 230.8h-0.9" stroke="#555" stroke-width="0.7" fill="none"/>
<g filter="url(#tb)">
<text class="t" x="565.1" y="424.7" text-anchor="middle">2</text><text class="t" x="594.5" y="424.7" text-anchor="middle">3</text><text class="t" x="623.9" y="424.7" text-anchor="middle">4</text><text class="t" x="653.3" y="424.7" text-anchor="middle">5</text><text class="t" x="682.7" y="424.7" text-anchor="middle">6</text><text class="t" x="712.1" y="424.7" text-anchor="middle">7</text><text class="t" x="741.5" y="424.7" text-anchor="middle">8</text>
<text class="t" x="557.7" y="409.1" text-anchor="end" letter-spacing="0.35">0.00</text><text class="t" x="557.7" y="360.7" text-anchor="end" letter-spacing="0.35">0.05</text><text class="t" x="557.7" y="312.3" text-anchor="end" letter-spacing="0.35">0.10</text><text class="t" x="557.7" y="263.9" text-anchor="end" letter-spacing="0.35">0.15</text>
</g>
<text class="l" text-anchor="middle" textLength="74.3" lengthAdjust="spacingAndGlyphs" transform="translate(523.4 315.6) rotate(-90)">Modularity</text>
<text class="l" text-anchor="middle" textLength="73.0" lengthAdjust="spacingAndGlyphs" x="650.4" y="445.4">Invasibility</text>
</g>
</svg>
</body></html>
